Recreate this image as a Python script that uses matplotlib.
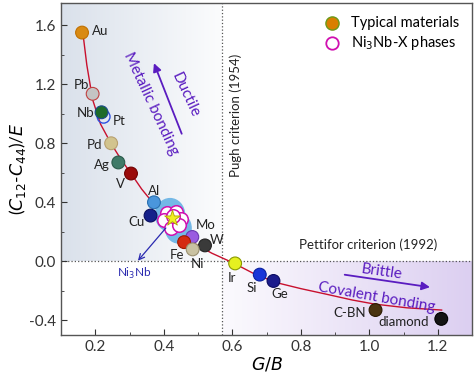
import matplotlib
matplotlib.use('Agg')
import matplotlib.pyplot as plt
import numpy as np
from matplotlib.patches import Ellipse
from matplotlib.ticker import MultipleLocator

plt.rcParams['font.family'] = ['Lato', 'DejaVu Sans']

# typical materials: name, G/B, (C12-C44)/E, face colour, label position
names = ['Au', 'Pb', 'Nb', 'Pd', 'Ag', 'V', 'Al', 'Cu', 'Mo', 'W', 'Fe', 'Ni',
         'Ir', 'Si', 'Ge', 'C-BN', 'diamond']
gb = [0.161, 0.192, 0.218, 0.246, 0.267, 0.304, 0.371, 0.361, 0.483, 0.520,
      0.459, 0.484, 0.608, 0.680, 0.720, 1.018, 1.210]
cv = [1.55, 1.135, 1.01, 0.80, 0.67, 0.595, 0.40, 0.31, 0.165, 0.108,
      0.13, 0.081, -0.014, -0.09, -0.133, -0.33, -0.39]
colors = ['#d98a12', '#c4c4c4', '#1e6b2a', '#d2c48e', '#3f7a68', '#9a0a0a',
          '#4a96dc', '#14208a', '#9a5ce0', '#3a3a3a', '#d42a10', '#c9c2a2',
          '#e6f020', '#1a36d8', '#1c1c8c', '#4a3410', '#141414']
edges = ['#c07000', '#c04040', '#1a4a8a', '#b8a070', '#2a5a4a', '#700000',
         '#2a70b0', '#0a1060', '#6a3ab0', '#222222', '#a01a00', '#9a9070',
         '#8a9a00', '#0a20a0', '#0a0a60', '#2a1a00', '#000000']
lab_x = [0.19, 0.158, 0.171, 0.197, 0.220, 0.272, 0.372, 0.321, 0.521, 0.553,
         0.438, 0.497, 0.600, 0.657, 0.738, 0.943, 1.099]
lab_y = [1.56, 1.196, 1.005, 0.79, 0.655, 0.525, 0.475, 0.266, 0.243, 0.144,
         0.04, -0.016, -0.11, -0.184, -0.223, -0.347, -0.414]

# Pt: open blue circle
pt_gb, pt_cv = 0.224, 0.98

# trend curve
curve_x = [0.163, 0.175, 0.192, 0.215, 0.246, 0.275, 0.304, 0.335, 0.368, 0.42,
           0.485, 0.54, 0.601, 0.66, 0.728, 0.80, 0.875, 0.95, 1.016, 1.11, 1.211]
curve_y = [1.556, 1.33, 1.095, 0.93, 0.797, 0.69, 0.595, 0.49, 0.396, 0.255,
           0.126, 0.055, -0.009, -0.08, -0.144, -0.185, -0.223, -0.262, -0.29, -0.315, -0.33]

# Ni3Nb-X phases (open circles) and Ni3Nb star
nx_gb = [0.408, 0.436, 0.400, 0.450, 0.420, 0.445, 0.428]
nx_cv = [0.330, 0.335, 0.280, 0.285, 0.225, 0.245, 0.31]
star_gb, star_cv = 0.424, 0.295

fig = plt.figure(figsize=(4.74, 3.83), dpi=100)
ax = fig.add_axes([0.129, 0.125, 0.867, 0.867])
ax.set_xlim(0.1, 1.3)
ax.set_ylim(-0.5, 1.75)

# background gradients
grad = np.linspace(1, 0.1, 200).reshape(1, -1)
cm_blue = matplotlib.colors.LinearSegmentedColormap.from_list('b', ['#ffffff', '#dae1eb'])
ax.imshow(grad, extent=[0.1, 0.57, 0, 1.75], aspect='auto', cmap=cm_blue,
          vmin=0, vmax=1, zorder=0)
cm_pur = matplotlib.colors.LinearSegmentedColormap.from_list('p', ['#ffffff', '#dccff1'])
ax.imshow(grad[:, ::-1], extent=[0.57, 1.3, -0.5, 0], aspect='auto', cmap=cm_pur,
          vmin=0, vmax=1, zorder=0)

ax.axvline(0.57, color='#555555', ls=':', lw=0.9, zorder=1)
ax.axhline(0.0, color='#555555', ls=':', lw=0.9, zorder=1)

ax.plot(curve_x, curve_y, color='#c8102e', lw=1.0, zorder=2)

# Ni3Nb cluster
ax.add_patch(Ellipse((0.418, 0.315), 0.085, 0.22, color='#74b8e6', zorder=3))
ax.add_patch(Ellipse((0.442, 0.225), 0.075, 0.2, color='#74b8e6', zorder=3))
ax.scatter(nx_gb, nx_cv, s=95, facecolor='white', edgecolor='#d010b0', lw=1.1, zorder=4)
ax.scatter([star_gb], [star_cv], s=140, marker='*', facecolor='#f0f020',
           edgecolor='#b0a000', lw=0.6, zorder=5)

ax.scatter(gb, cv, s=85, c=colors, edgecolors=edges, lw=0.8, zorder=6)
ax.scatter([pt_gb], [pt_cv], s=85, facecolor='none', edgecolor='#3050e0', lw=1.0, zorder=5)

for n, x, y in zip(names, lab_x, lab_y):
    ha = 'left' if n == 'Au' else 'center'
    ax.text(x, y, n, fontsize=9.5, ha=ha, va='center', color='#222222', zorder=7)
ax.text(0.27, 0.948, 'Pt', fontsize=9.5, ha='center', va='center', color='#222222')

ax.annotate('', xy=(0.319, -0.01), xytext=(0.411, 0.24),
            arrowprops=dict(arrowstyle='->', color='#2a2ab0', lw=0.9), zorder=7)
ax.text(0.314, -0.08, 'Ni$_3$Nb', fontsize=8.5, color='#2a2ab0', ha='center', va='center')

purple = '#5a1cc0'
ax.annotate('', xy=(0.368, 1.36), xytext=(0.455, 0.847),
            arrowprops=dict(arrowstyle='-|>', color=purple, lw=1.3, mutation_scale=12))
ax.text(0.462, 1.13, 'Ductile', rotation=-65, fontsize=11, color=purple,
        ha='center', va='center', rotation_mode='anchor')
ax.text(0.363, 1.07, 'Metallic bonding', rotation=-65, fontsize=11, color=purple,
        ha='center', va='center', rotation_mode='anchor')
ax.annotate('', xy=(1.185, -0.178), xytext=(0.92, -0.088),
            arrowprops=dict(arrowstyle='-|>', color=purple, lw=1.3, mutation_scale=12))
ax.text(1.035, -0.075, 'Brittle', rotation=-8, fontsize=11, color=purple,
        ha='center', va='center', rotation_mode='anchor')
ax.text(1.02, -0.245, 'Covalent bonding', rotation=-10, fontsize=11, color=purple,
        ha='center', va='center', rotation_mode='anchor')

ax.text(0.611, 0.99, 'Pugh criterion (1954)', rotation=90, fontsize=9.5,
        ha='center', va='center', color='#222222')
ax.text(0.996, 0.11, 'Pettifor criterion (1992)', fontsize=9.5,
        ha='center', va='center', color='#222222')

# legend
h1 = ax.scatter([], [], s=90, facecolor='#d97e00', edgecolor='#6a9a1a', lw=1.0)
h2 = ax.scatter([], [], s=80, facecolor='white', edgecolor='#d010b0', lw=1.3)
ax.legend([h1, h2], ['Typical materials', 'Ni$_3$Nb-X phases'], loc='upper right',
          frameon=False, fontsize=10.5, handletextpad=0.3, borderaxespad=0.5,
          labelspacing=0.25)

ax.xaxis.set_major_locator(MultipleLocator(0.2))
ax.xaxis.set_minor_locator(MultipleLocator(0.1))
ax.yaxis.set_major_locator(MultipleLocator(0.4))
ax.yaxis.set_minor_locator(MultipleLocator(0.2))
ax.xaxis.set_major_formatter(matplotlib.ticker.FormatStrFormatter('%.1f'))
ax.yaxis.set_major_formatter(matplotlib.ticker.FormatStrFormatter('%.1f'))
ax.tick_params(direction='in', which='both', labelsize=11, colors='#333333')
ax.tick_params(which='major', length=4)
ax.tick_params(which='minor', length=2.5)
for s in ax.spines.values():
    s.set_color('#555555')
    s.set_linewidth(1.0)

ax.set_xlabel('$G/B$', fontsize=12.5, labelpad=1)
ax.set_ylabel('($C_{12}$-$C_{44}$)/$E$', fontsize=12.5, labelpad=1)

fig.savefig('out.png', dpi=100)
